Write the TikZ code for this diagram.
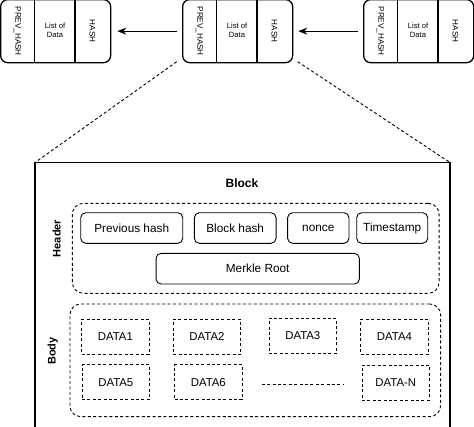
\documentclass[tikz,border=0pt]{standalone}
\usepackage{fontspec}
\setmainfont{Liberation Sans}
\usetikzlibrary{arrows.meta}
\begin{document}
\begin{tikzpicture}[x=1pt,y=-1pt,
  chainblk/.style={draw, line width=1.3pt, rounded corners=7pt, minimum width=110pt, minimum height=63pt, inner sep=0pt},
  vlabel/.style={font=\fontsize{8.1}{9}\selectfont, rotate=-90, inner sep=0pt},
  llabel/.style={font=\fontsize{7.6}{9.2}\selectfont, align=center, inner sep=0pt},
  hbox/.style={draw, line width=0.9pt, rounded corners=5pt, minimum height=30.6pt, inner sep=0pt, font=\fontsize{11.8}{14}\selectfont},
  dbox/.style={draw, line width=0.9pt, dash pattern=on 3pt off 2.4pt, minimum width=67.5pt, minimum height=35pt, inner sep=0pt, font=\fontsize{11.4}{14}\selectfont},
  grp/.style={draw, line width=0.9pt, dash pattern=on 3pt off 2.4pt, rounded corners=11pt, inner sep=0pt},
  side/.style={font=\bfseries\fontsize{11}{13}\selectfont, rotate=90, inner sep=0pt},
  arr/.style={-{Stealth[length=9pt,width=7pt]}, line width=1.2pt},
  zoomline/.style={line width=0.9pt, dash pattern=on 3pt off 2.4pt}
]
\useasboundingbox (0,0) rectangle (474,426);

% chain blocks
\foreach \nm/\x in {lb/0, mb/182, rb/363}{
  \node[chainblk, anchor=north west] (\nm) at (\x,-1) {};
  \draw[line width=1.3pt] ([xshift=34.5pt]\nm.north west) -- ([xshift=34.5pt]\nm.south west);
  \draw[line width=1.3pt] ([xshift=75pt]\nm.north west) -- ([xshift=75pt]\nm.south west);
  \node[vlabel] (\nm p) at ([xshift=17.5pt]\nm.west) {PREV\_HASH};
  \node[llabel] (\nm l) at ([xshift=55pt,yshift=1pt]\nm.west) {List of\\Data};
  \node[vlabel] (\nm h) at ([xshift=92.5pt]\nm.west) {HASH};
}

\draw[arr, shorten <=5pt, shorten >=6pt] (mb.west) -- (lb.east);
\draw[arr, shorten <=5pt, shorten >=5pt] (rb.west) -- (mb.east);

% big block
\coordinate (bbl) at (35,162.5);
\coordinate (bbr) at (450,162.5);
\draw[line width=1.1pt] (35,440) -- (bbl) -- (bbr) -- (450,440);
\coordinate (zl) at (176.7,61.7);
\coordinate (zr) at (297.7,61.7);
\draw[zoomline] (zl) -- (bbl);
\draw[zoomline] (zr) -- (bbr);

\node[font=\bfseries\fontsize{12}{14}\selectfont, inner sep=0pt] (blocktitle) at (242,183.5) {Block};

% header
\node[grp, minimum width=366.7pt, minimum height=90pt] (header) at (255.7,248.3) {};
\node[side] (headerlbl) at (56.7,238.5) {Header};
\node[hbox, minimum width=102pt] (prev) at (131.7,228) {Previous hash};
\node[hbox, minimum width=81.7pt] (bhash) at (235.2,228) {Block hash};
\node[hbox, minimum width=61.3pt] (nonce) at (318.3,228) {nonce};
\node[hbox, minimum width=71pt] (ts) at (392.2,228) {Timestamp};
\node[hbox, minimum width=203.3pt] (merkle) at (257.7,268.7) {Merkle Root};

% body
\node[grp, minimum width=370.7pt, minimum height=112.7pt] (body) at (255.3,360.3) {};
\node[side] (bodylbl) at (52.7,351) {Body};
\node[dbox] (d1) at (115.4,336.8) {DATA1};
\node[dbox] (d2) at (207,336.8) {DATA2};
\node[dbox] (d3) at (302.8,335.8) {DATA3};
\node[dbox] (d4) at (394.5,336.8) {DATA4};
\node[dbox] (d5) at (115.8,382.2) {DATA5};
\node[dbox] (d6) at (208.3,382.2) {DATA6};
\node[dbox] (dn) at (395.8,382.5) {DATA-N};
\coordinate (dl) at (261.7,384);
\coordinate (dr) at (343.3,384);
\draw[line width=0.9pt, dash pattern=on 3pt off 2.4pt] (dl) -- (dr);
\end{tikzpicture}
\end{document}
